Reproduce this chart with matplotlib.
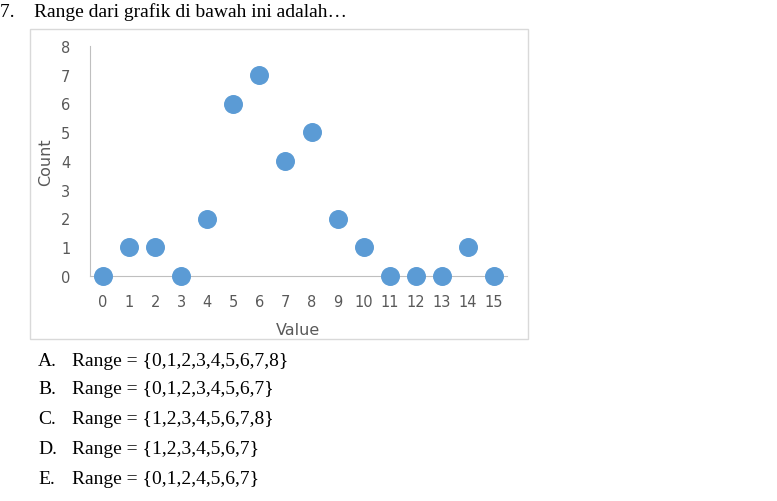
import matplotlib
matplotlib.use("Agg")
import matplotlib.pyplot as plt
from matplotlib.patches import Rectangle

values = list(range(16))
counts = [0, 1, 1, 0, 2, 6, 7, 4, 5, 2, 1, 0, 0, 0, 1, 0]
yticks = list(range(9))
title = "7.    Range dari grafik di bawah ini adalah\u2026"
options = [("A.", "Range = {0,1,2,3,4,5,6,7,8}"),
           ("B.", "Range = {0,1,2,3,4,5,6,7}"),
           ("C.", "Range = {1,2,3,4,5,6,7,8}"),
           ("D.", "Range = {1,2,3,4,5,6,7}"),
           ("E.", "Range = {0,1,2,4,5,6,7}")]

W, H = 777, 502
fig = plt.figure(figsize=(W/100, H/100), dpi=100)
fig.patches.append(Rectangle((30/W, 1-340/H), 498/W, 310/H, transform=fig.transFigure,
                             fill=False, edgecolor="#d9d9d9", lw=1))
ax = fig.add_axes([90/W, 1-277/H, 417/W, 230/H])
ax.scatter(values, counts, s=160, color="#5b9bd5", clip_on=False, zorder=3)
ax.set_xlim(-0.5, 15.5)
ax.set_ylim(0, 8)
ax.set_xticks(values)
ax.set_yticks(yticks)
for s in ["top", "right"]:
    ax.spines[s].set_visible(False)
for s in ["left", "bottom"]:
    ax.spines[s].set_color("#bfbfbf")
ax.tick_params(colors="#595959", labelsize=10.5, length=0)
ax.tick_params(axis="x", pad=13)
ax.tick_params(axis="y", pad=14)
ax.set_xlabel("Value", color="#595959", fontsize=11.5, labelpad=9)
ax.set_ylabel("Count", color="#595959", fontsize=11.5, labelpad=6)

serif = "Liberation Serif"
fig.text(0/W, 1-12/H, title, family=serif, fontsize=14, va="center", ha="left")
ys = [361, 390, 420, 450, 480]
for (l, t), y in zip(options, ys):
    fig.text(38/W, 1-y/H, l, family=serif, fontsize=14, va="center")
    fig.text(72/W, 1-y/H, t, family=serif, fontsize=14, va="center")
fig.savefig("out.png", dpi=100)
